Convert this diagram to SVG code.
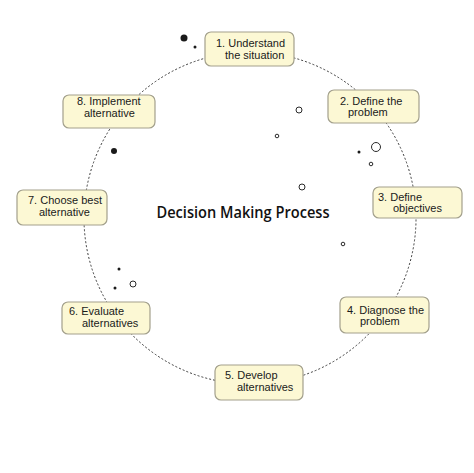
<svg xmlns="http://www.w3.org/2000/svg" width="474" height="473" viewBox="0 0 474 473">
<style>
.box{fill:#fcf8d4;stroke:#a3a08c;stroke-width:1.2}
.lbl{font-family:"Liberation Sans",Arial,sans-serif;font-size:11px;fill:#1a1a1a}
.arc{fill:none;stroke:#3a3a3a;stroke-width:1;stroke-dasharray:2 2}
.dot{fill:#1a1a1a}
.ring{fill:none;stroke:#2a2a2a;stroke-width:1}
</style>
<rect width="474" height="473" fill="#ffffff"/>
<g id="connectors">
<path class="arc" d="M250 52 A166 166 0 0 1 373.4 106.9"/>
<path class="arc" d="M373.4 106.9 A166 166 0 0 1 415.4 203.5"/>
<path class="arc" d="M415.4 203.5 A166 166 0 0 1 384.3 315.6"/>
<path class="arc" d="M384.3 315.6 A166 166 0 0 1 258.7 383.8"/>
<path class="arc" d="M258.7 383.8 A166 166 0 0 1 114 313.2"/>
<path class="arc" d="M114 313.2 A166 166 0 0 1 84.4 206.4"/>
<path class="arc" d="M84.4 206.4 A166 166 0 0 1 117.4 118.1"/>
<path class="arc" d="M117.4 118.1 A166 166 0 0 1 250 52"/>
</g>
<g id="decor">
<circle class="dot" cx="184" cy="38" r="3.5"/>
<circle class="dot" cx="195" cy="47" r="1.5"/>
<circle class="dot" cx="114" cy="151" r="3"/>
<circle class="dot" cx="359" cy="152" r="1.5"/>
<circle class="dot" cx="119" cy="269" r="1.5"/>
<circle class="dot" cx="115" cy="288" r="1.5"/>
<circle class="ring" cx="299" cy="110" r="3"/>
<circle class="ring" cx="277" cy="136" r="1.8"/>
<circle class="ring" cx="376" cy="147" r="4.5"/>
<circle class="ring" cx="371" cy="164" r="1.8"/>
<circle class="ring" cx="302" cy="187" r="3"/>
<circle class="ring" cx="343" cy="244" r="1.8"/>
<circle class="ring" cx="133" cy="284" r="3"/>
</g>
<g id="title">
<text x="243" y="218" text-anchor="middle" font-family="'Open Sans','Liberation Sans',sans-serif" font-weight="600" font-size="15.5" fill="#111" textLength="173" lengthAdjust="spacingAndGlyphs">Decision Making Process</text>
</g>
<g id="node1">
<rect class="box" x="205" y="32" width="89" height="34" rx="6"/>
<text class="lbl" x="216" y="47">1. Understand</text>
<text class="lbl" x="225" y="59">the situation</text>
</g>
<g id="node2">
<rect class="box" x="328" y="90" width="91" height="33" rx="6"/>
<text class="lbl" x="340" y="105">2. Define the</text>
<text class="lbl" x="348" y="116">problem</text>
</g>
<g id="node3">
<rect class="box" x="373" y="187" width="89" height="31" rx="6"/>
<text class="lbl" x="378" y="201">3. Define</text>
<text class="lbl" x="393" y="212">objectives</text>
</g>
<g id="node4">
<rect class="box" x="340" y="297" width="89" height="36" rx="6"/>
<text class="lbl" x="347" y="314">4. Diagnose the</text>
<text class="lbl" x="360" y="325">problem</text>
</g>
<g id="node5">
<rect class="box" x="215" y="365" width="88" height="35" rx="6"/>
<text class="lbl" x="225" y="379">5. Develop</text>
<text class="lbl" x="237" y="391">alternatives</text>
</g>
<g id="node6">
<rect class="box" x="62" y="302" width="88" height="32" rx="6"/>
<text class="lbl" x="69" y="315">6. Evaluate</text>
<text class="lbl" x="82" y="327">alternatives</text>
</g>
<g id="node7">
<rect class="box" x="17" y="190" width="90" height="35" rx="6"/>
<text class="lbl" x="28" y="204">7. Choose best</text>
<text class="lbl" x="39" y="216">alternative</text>
</g>
<g id="node8">
<rect class="box" x="63" y="95" width="92" height="33" rx="6"/>
<text class="lbl" x="77" y="105">8. Implement</text>
<text class="lbl" x="84" y="117">alternative</text>
</g>
</svg>
